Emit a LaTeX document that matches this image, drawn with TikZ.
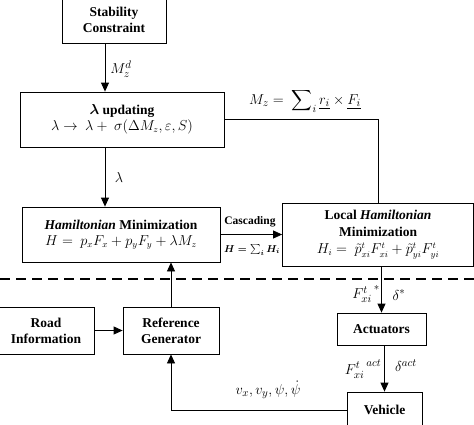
\documentclass[tikz,border=0pt]{standalone}
\usepackage{amsmath,fontspec}
\setmainfont{Liberation Serif}
\usetikzlibrary{arrows.meta,positioning,calc}

\begin{document}
\begin{tikzpicture}[x=1pt,y=-1pt,
blk/.style={draw,line width=.8pt,align=center,inner sep=0pt,font=\fontsize{13.5}{16}\selectfont\bfseries},
arr/.style={line width=.8pt,-{Triangle[length=9pt,width=8pt]}},
wire/.style={line width=.8pt},
lbl/.style={font=\fontsize{15.5}{17}\selectfont}]
\clip (0,0) rectangle (474,424);
\node[blk,minimum width=104pt,minimum height=46pt] (stab) at (114,20) {Stability\\Constraint};
\node[blk,minimum width=204pt,minimum height=55pt] (upd) at (122,119.5) {{\boldmath$\lambda$} updating\\{\mdseries$\lambda\rightarrow\ \lambda+\ \sigma(\Delta M_z,\varepsilon,S)$}};
\node[blk,minimum width=198pt,minimum height=55pt] (ham) at (121,234.5) {\textit{Hamiltonian} Minimization\\{\mdseries$H=\ p_xF_x+p_yF_y+\lambda M_z$}};
\node[blk,minimum width=191pt,minimum height=63pt,font=\fontsize{13.5}{17}\selectfont\bfseries] (loc) at (378,234.5) {Local \textit{Hamiltonian}\\Minimization\\{\mdseries$H_i=\ \tilde p_{xi}^tF_{xi}^t+\tilde p_{yi}^tF_{yi}^t$}};
\node[blk,minimum width=97pt,minimum height=47pt] (road) at (46,330.5) {Road\\Information};
\node[blk,minimum width=96pt,minimum height=47pt] (ref) at (171,330.5) {Reference\\Generator};
\node[blk,minimum width=89pt,minimum height=32pt] (act) at (381.5,329) {Actuators};
\node[blk,minimum width=75pt,minimum height=36pt] (veh) at (384.5,410) {Vehicle};
\draw[arr] ([xshift=-9]stab.south) -- ([xshift=-9]stab.south |- upd.north);
\draw[arr] ([xshift=-17]upd.south) -- ([xshift=-17]upd.south |- ham.north);
\draw[wire] (upd.east) -| (loc.north);
\draw[arr] (ham.east) -- (ham.east -| loc.west);
\draw[line width=1.4pt,dash pattern=on 10pt off 6pt] (0,279) -- (474,279);
\draw[arr] (road.east) -- (ref.west);
\draw[arr] (ref.north) -- (ref.north |- ham.south);
\draw[arr] (loc.south -| act.north) -- (act.north);
\draw[arr] (act.south -| veh.north) -- (veh.north);
\draw[arr] (veh.west) -| (ref.south);
\node[lbl] (mzd) at (121,69) {$M_z^d$};
\node[lbl] (lam) at (119,177) {$\lambda$};
\node[lbl] (mz) at (305,101) {$M_z=\ \displaystyle\sum\nolimits_i\underline{r_i}\times\underline{F_i}$};
\node[font=\fontsize{11.5}{13}\selectfont\bfseries] (casc) at (250,222) {Cascading};
\node[font=\fontsize{10}{12}\selectfont] (hsum) at (252,250) {{\boldmath$H=\sum\nolimits_i H_i$}};
\node[lbl] (fstar) at (366,294) {${F_{xi}^t}^{\,*}$};
\node[lbl] (dstar) at (399,295) {$\delta^*$};
\node[lbl] (fact) at (363,369) {${F_{xi}^t}^{\,act}$};
\node[lbl] (dact) at (406,366) {$\delta^{act}$};
\node[lbl] (vstate) at (268,390) {$v_x,v_y,\psi,\dot\psi$};
\end{tikzpicture}
\end{document}
